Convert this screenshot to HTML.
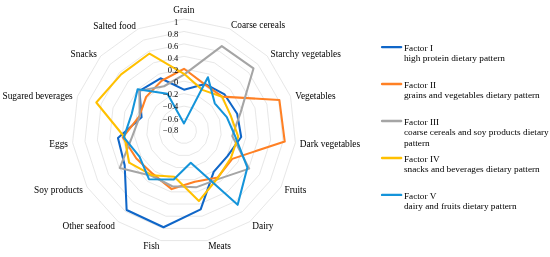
<!DOCTYPE html>
<html><head><meta charset="utf-8"><title>Radar chart</title>
<style>
html,body{margin:0;padding:0;background:#fff;}
body{width:550px;height:257px;overflow:hidden;}
svg{display:block;}
text{font-family:"Liberation Serif",serif;font-size:9.33px;fill:#000;}
.tk text{font-size:8.5px;}
.lg{font-size:9.27px;}
</style></head><body>
<svg width="550" height="257" viewBox="0 0 550 257">
<rect width="550" height="257" fill="#fff"/>

<g fill="none" stroke="#DCDCDC" stroke-width="0.7" stroke-linejoin="round">
<polygon points="184.00,118.56 189.06,119.63 193.25,122.67 195.84,127.15 196.38,132.30 194.78,137.22 191.31,141.07 186.59,143.17 181.41,143.17 176.69,141.07 173.22,137.22 171.62,132.30 172.16,127.15 174.75,122.67 178.94,119.63"/>
<polygon points="184.00,106.11 194.12,108.26 202.50,114.35 207.67,123.31 208.75,133.60 205.55,143.44 198.63,151.14 189.17,155.35 178.83,155.35 169.37,151.14 162.45,143.44 159.25,133.60 160.33,123.31 165.50,114.35 173.88,108.26"/>
<polygon points="184.00,93.67 199.18,96.89 211.74,106.02 219.51,119.46 221.13,134.90 216.33,149.67 205.94,161.20 191.76,167.52 176.24,167.52 162.06,161.20 151.67,149.67 146.87,134.90 148.49,119.46 156.26,106.02 168.82,96.89"/>
<polygon points="184.00,81.22 204.25,85.53 220.99,97.69 231.34,115.62 233.51,136.20 227.11,155.89 213.26,171.27 194.35,179.69 173.65,179.69 154.74,171.27 140.89,155.89 134.49,136.20 136.66,115.62 147.01,97.69 163.75,85.53"/>
<polygon points="184.00,68.78 209.31,74.16 230.24,89.37 243.18,111.77 245.88,137.50 237.89,162.11 220.57,181.34 196.94,191.86 171.06,191.86 147.43,181.34 130.11,162.11 122.12,137.50 124.82,111.77 137.76,89.37 158.69,74.16"/>
<polygon points="184.00,56.33 214.37,62.79 239.49,81.04 255.01,107.93 258.26,138.80 248.66,168.33 227.89,191.41 199.52,204.04 168.48,204.04 140.11,191.41 119.34,168.33 109.74,138.80 112.99,107.93 128.51,81.04 153.63,62.79"/>
<polygon points="184.00,43.89 219.43,51.42 248.74,72.71 266.85,104.08 270.63,140.11 259.44,174.56 235.20,201.47 202.11,216.21 165.89,216.21 132.80,201.47 108.56,174.56 97.37,140.11 101.15,104.08 119.26,72.71 148.57,51.42"/>
<polygon points="184.00,31.44 224.49,40.05 257.98,64.38 278.68,100.24 283.01,141.41 270.22,180.78 242.52,211.54 204.70,228.38 163.30,228.38 125.48,211.54 97.78,180.78 84.99,141.41 89.32,100.24 110.02,64.38 143.51,40.05"/>
<polygon points="184.00,19.00 229.55,28.68 267.23,56.06 290.52,96.39 295.39,142.71 280.99,187.00 249.83,221.61 207.29,240.55 160.71,240.55 118.17,221.61 87.01,187.00 72.61,142.71 77.48,96.39 100.77,56.06 138.45,28.68"/>
</g>
<g fill="none" stroke-width="2.05" stroke-linejoin="round" stroke-linecap="round">
<polygon stroke="#0F66C8" points="184.00,89.70 204.95,83.95 224.58,94.47 237.16,113.73 241.19,137.01 227.47,156.10 213.68,171.86 200.67,209.45 163.54,227.25 126.63,209.96 124.68,165.25 117.96,137.94 141.58,117.22 139.49,90.92 160.53,78.29"/>
<polygon stroke="#FF8024" points="184.00,68.80 204.74,84.41 222.20,96.61 279.39,100.01 284.75,141.59 232.24,158.85 217.74,177.44 194.79,181.77 171.65,189.10 152.85,173.88 136.37,158.50 122.84,137.43 139.30,116.48 146.10,96.87 161.63,80.75"/>
<polygon stroke="#A5A5A5" points="184.00,74.60 221.79,46.13 253.48,68.44 240.59,112.61 232.23,136.07 249.21,168.65 218.80,178.89 195.98,187.34 172.25,186.27 151.50,175.74 119.74,168.10 132.28,136.44 139.68,116.60 139.41,90.85 164.07,86.24"/>
<polygon stroke="#FFC000" points="184.00,73.80 202.30,89.89 222.12,96.67 230.79,115.80 238.20,136.70 230.85,158.05 217.97,177.76 198.89,201.04 174.29,176.68 151.91,175.17 129.09,162.70 124.63,137.24 96.31,102.51 121.13,74.39 149.51,53.53"/>
<polygon stroke="#1494DA" points="184.00,123.40 207.92,77.28 214.77,103.30 226.80,117.09 235.22,136.38 247.39,167.60 237.66,204.86 190.76,162.79 173.71,179.42 148.97,179.22 139.49,156.70 123.83,137.32 131.69,114.00 137.63,89.25 167.41,93.73"/>
</g>
<g text-anchor="end" class="tk">
<text x="178.3" y="133.40">−0.8</text>
<text x="178.3" y="121.80">−0.6</text>
<text x="178.3" y="108.60">−0.4</text>
<text x="178.3" y="97.20">−0.2</text>
<text x="178.3" y="85.00">0</text>
<text x="178.3" y="73.00">0.2</text>
<text x="178.3" y="61.00">0.4</text>
<text x="178.3" y="49.00">0.6</text>
<text x="178.3" y="36.60">0.8</text>
<text x="178.3" y="24.60">1</text>
</g>
<text x="183.8" y="12.5" text-anchor="middle">Grain</text>
<text x="231" y="28.2" text-anchor="start">Coarse cereals</text>
<text x="270.6" y="56.7" text-anchor="start">Starchy vegetables</text>
<text x="295.2" y="98.6" text-anchor="start">Vegetables</text>
<text x="299.8" y="146.6" text-anchor="start">Dark vegetables</text>
<text x="284.5" y="193.2" text-anchor="start">Fruits</text>
<text x="252.3" y="229.2" text-anchor="start">Dairy</text>
<text x="219.6" y="248.8" text-anchor="middle">Meats</text>
<text x="151.4" y="248.8" text-anchor="middle">Fish</text>
<text x="115" y="228.7" text-anchor="end">Other seafood</text>
<text x="83" y="192.7" text-anchor="end">Soy products</text>
<text x="68" y="146.7" text-anchor="end">Eggs</text>
<text x="72.7" y="98.6" text-anchor="end">Sugared beverages</text>
<text x="97" y="56.7" text-anchor="end">Snacks</text>
<text x="136" y="28.5" text-anchor="end">Salted food</text>
<line x1="382.1" x2="401.1" y1="47.10" y2="47.10" stroke="#0F66C8" stroke-width="2.4" stroke-linecap="round"/>
<text class="lg" x="403.9" y="50.90">Factor I</text>
<text class="lg" x="403.9" y="61.10">high protein dietary pattern</text>
<line x1="382.1" x2="401.1" y1="84.05" y2="84.05" stroke="#FF8024" stroke-width="2.4" stroke-linecap="round"/>
<text class="lg" x="403.9" y="87.85">Factor II</text>
<text class="lg" x="403.9" y="98.05">grains and vegetables dietary pattern</text>
<line x1="382.1" x2="401.1" y1="121.00" y2="121.00" stroke="#A5A5A5" stroke-width="2.4" stroke-linecap="round"/>
<text class="lg" x="403.9" y="124.80">Factor III</text>
<text class="lg" x="403.9" y="135.00">coarse cereals and soy products dietary</text>
<text class="lg" x="403.9" y="145.70">pattern</text>
<line x1="382.1" x2="401.1" y1="157.95" y2="157.95" stroke="#FFC000" stroke-width="2.4" stroke-linecap="round"/>
<text class="lg" x="403.9" y="161.75">Factor IV</text>
<text class="lg" x="403.9" y="171.95">snacks and beverages dietary pattern</text>
<line x1="382.1" x2="401.1" y1="194.90" y2="194.90" stroke="#1494DA" stroke-width="2.4" stroke-linecap="round"/>
<text class="lg" x="403.9" y="198.70">Factor V</text>
<text class="lg" x="403.9" y="208.90">dairy and fruits dietary pattern</text>
</svg></body></html>
